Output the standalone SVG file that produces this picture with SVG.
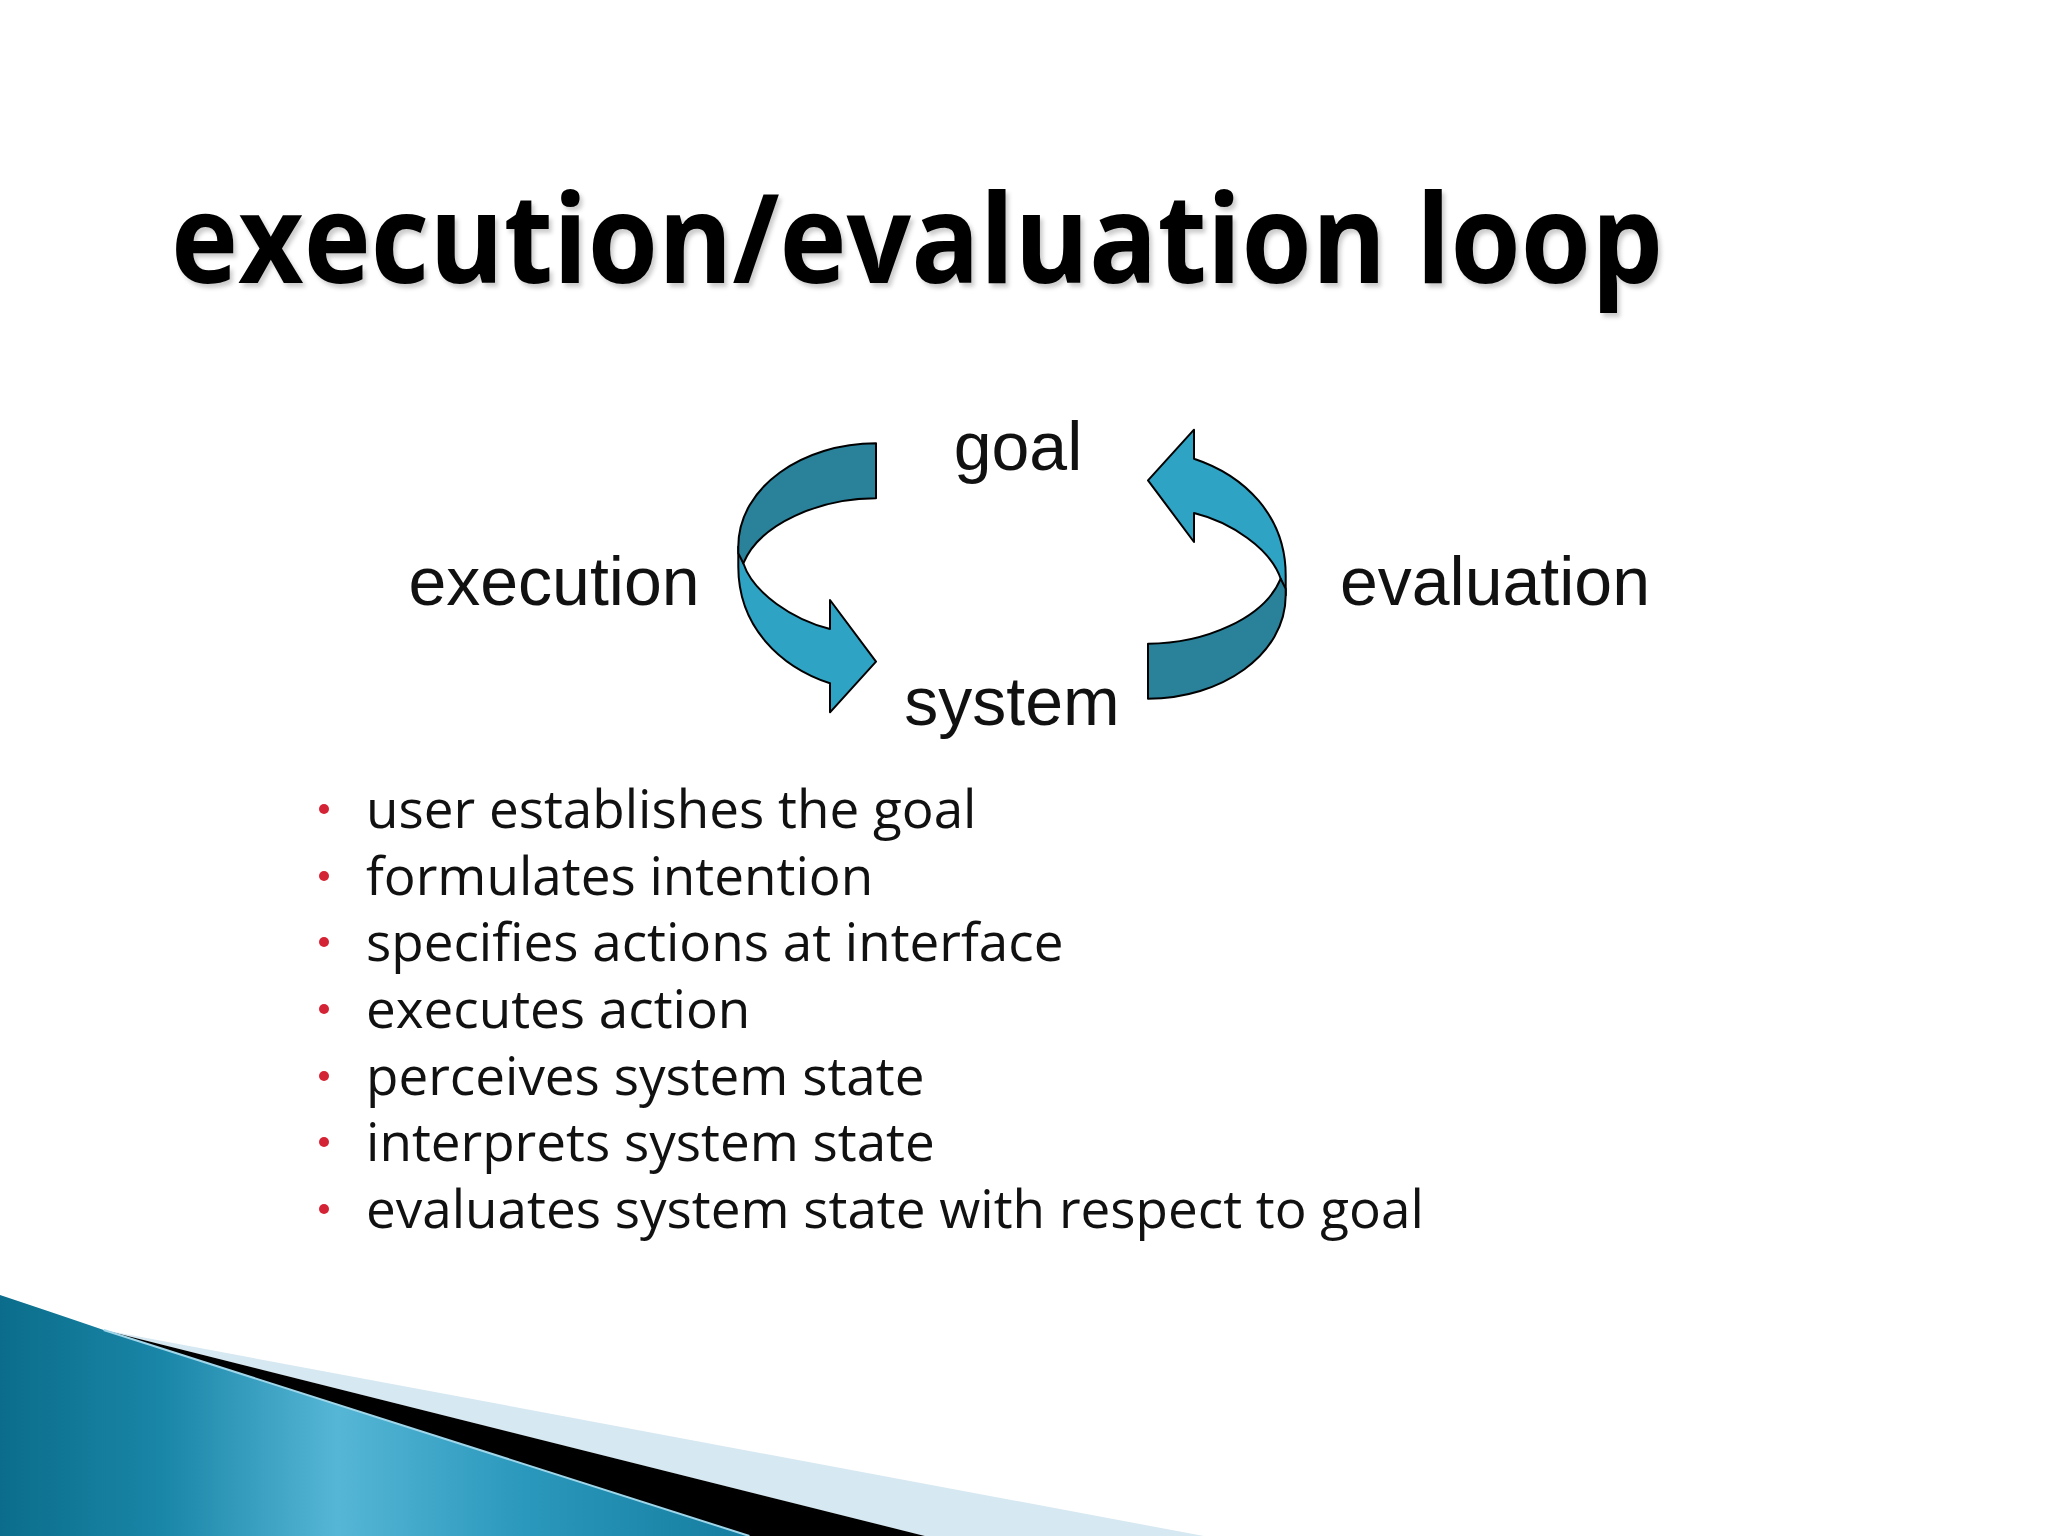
<svg xmlns="http://www.w3.org/2000/svg" width="2048" height="1536" viewBox="0 0 2048 1536">
  <defs>
    <style>
      .label { font-family: "Liberation Sans", Arial, sans-serif; font-size: 68px; fill: #111; text-anchor: middle; }
      .bullet { font-family: "Open Sans", "Noto Sans", sans-serif; font-size: 53px; fill: #111; }
      .dot { fill: #d42335; }
      .dark { fill: #29819a; stroke: #000; stroke-width: 2; stroke-linejoin: round; }
      .light { fill: #2fa3c3; stroke: #000; stroke-width: 2; stroke-linejoin: round; }
    </style>
    <filter id="shadow" x="-5%" y="-20%" width="110%" height="140%">
      <feDropShadow dx="3" dy="4" stdDeviation="2" flood-color="#000" flood-opacity="0.2"/>
    </filter>
    <linearGradient id="blueGrad" x1="0" y1="0" x2="1" y2="0" gradientUnits="objectBoundingBox">
      <stop offset="0" stop-color="#0b6d8b"/>
      <stop offset="0.22" stop-color="#1a86a8"/>
      <stop offset="0.45" stop-color="#56b6d6"/>
      <stop offset="0.7" stop-color="#2a98bc"/>
      <stop offset="1" stop-color="#157d9f"/>
    </linearGradient>
    <g id="curvedArrow">
      <path class="light" d="M738.3,546.7 L738.3,566.7 C738.3,626.7 780,666.7 830,683.3 L830,712.3 L876,661.7 L830,600 L830,629 C793.3,620 753.3,593.3 743.3,563.3 Z"/>
      <path class="dark" d="M876,443.3 C803.3,443.3 738.3,486.7 738.3,546.7 L738.3,553.3 L743.3,563.3 C760,523.3 820,498.3 876,498.3 Z"/>
    </g>
  </defs>

  <rect width="2048" height="1536" fill="#ffffff"/>

  <!-- bottom-left decoration -->
  <g id="decoration">
    <path d="M0,1295 Q60,1315 103.7,1330 L749.4,1536 L0,1536 Z" fill="url(#blueGrad)"/>
    <path d="M103.7,1330 L1203.8,1536 L924.8,1536 Z" fill="#d6e8f1"/>
    <path d="M103.7,1330 L924.8,1536 L749.4,1536 Z" fill="#000"/>
    <line x1="103.7" y1="1330" x2="749.4" y2="1536" stroke="#9fd6ea" stroke-width="2"/>
  </g>

  <!-- title -->
  <g id="title">
    <text x="171" y="283" font-family="'Open Sans', 'Noto Sans', sans-serif" font-weight="bold" font-size="123" fill="#000" textLength="1492" lengthAdjust="spacingAndGlyphs" filter="url(#shadow)">execution/evaluation loop</text>
  </g>

  <!-- curved arrows -->
  <g id="connectors">
    <g id="arrow-execution">
      <use href="#curvedArrow"/>
    </g>
    <g id="arrow-evaluation">
      <use href="#curvedArrow" transform="translate(2024,1142) rotate(180)"/>
    </g>
  </g>

  <!-- labels -->
  <g id="node-goal"><text class="label" x="1018" y="470">goal</text></g>
  <g id="node-system"><text class="label" x="1012" y="725">system</text></g>
  <g id="node-execution"><text class="label" x="554" y="605">execution</text></g>
  <g id="node-evaluation"><text class="label" x="1495" y="605">evaluation</text></g>

  <!-- bullet list -->
  <g id="bullets">
    <circle class="dot" cx="324" cy="809" r="5"/>
    <text class="bullet" x="366" y="828">user establishes the goal</text>
    <circle class="dot" cx="324" cy="876" r="5"/>
    <text class="bullet" x="366" y="895">formulates intention</text>
    <circle class="dot" cx="324" cy="942" r="5"/>
    <text class="bullet" x="366" y="961">specifies actions at interface</text>
    <circle class="dot" cx="324" cy="1009" r="5"/>
    <text class="bullet" x="366" y="1028">executes action</text>
    <circle class="dot" cx="324" cy="1076" r="5"/>
    <text class="bullet" x="366" y="1095">perceives system state</text>
    <circle class="dot" cx="324" cy="1142" r="5"/>
    <text class="bullet" x="366" y="1161">interprets system state</text>
    <circle class="dot" cx="324" cy="1209" r="5"/>
    <text class="bullet" x="366" y="1228">evaluates system state with respect to goal</text>
  </g>
</svg>
